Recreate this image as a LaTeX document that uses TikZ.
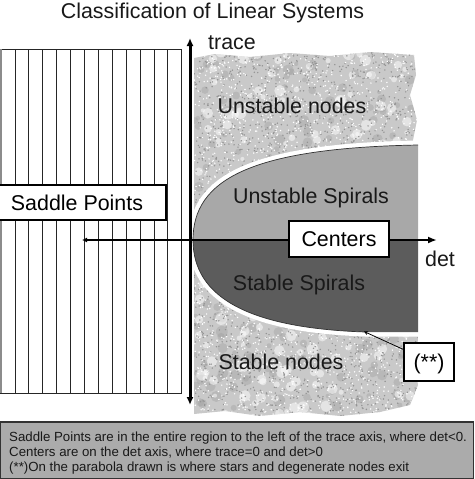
\documentclass[tikz,border=0pt]{standalone}
\usepackage{fontspec}
\setmainfont{Liberation Sans}
\usetikzlibrary{arrows.meta,calc}
\definecolor{lightreg}{HTML}{A8A8A8}
\definecolor{darkreg}{HTML}{5C5C5C}
\definecolor{notefill}{HTML}{ABABAB}
\definecolor{speck}{HTML}{949494}
\begin{document}
\begin{tikzpicture}[x=1pt,y=-1pt,
  lbl/.style={font=\fontsize{21.4}{24}\selectfont, inner sep=0pt, anchor=base, text=black!90},
  boxed/.style={draw=black, line width=1.2pt, fill=white, inner sep=0pt,
    font=\fontsize{21.4}{24}\selectfont, text height=15.3pt, text depth=0pt},
  notetext/.style={font=\fontsize{13.25}{15}\selectfont, inner sep=0pt, anchor=base west, text=black!90},
  hatch/.style={line width=0.9pt, draw=black!85},
  axis/.style={draw=black}
]
\useasboundingbox (0,0) rectangle (474,479);
\fill[white] (0,0) rectangle (474,479);

% speckled region (nodes)
\pgfmathsetseed{7}
\begin{scope}
\clip (194,58) -- (215,54) -- (250,57) -- (290,53) -- (330,56) -- (370,52) -- (414,55)
  -- (416,75) -- (410,95) -- (417,120) -- (412,145) -- (418,340) -- (414,360) -- (418,385)
  -- (410,405) -- (380,412) -- (340,416) -- (300,412) -- (260,416) -- (225,411) -- (194,414) -- cycle;
\fill[black!21] (190,40) rectangle (430,420);
\foreach \i in {1,...,260}{
  \fill[black!40, opacity=0.35] ({194+224*rnd},{50+370*rnd}) circle ({2+4*rnd});
}
\foreach \i in {1,...,240}{
  \fill[white, opacity=0.5] ({194+224*rnd},{50+370*rnd}) circle ({2+4*rnd});
}
\foreach \i in {1,...,2600}{
  \fill[speck] ({194+224*rnd},{50+370*rnd}) circle (0.8);
}
\foreach \i in {1,...,2200}{
  \fill[white] ({194+224*rnd},{50+370*rnd}) circle (0.8);
}
\end{scope}

% saddle hatch region
\draw[hatch] (0,49) -- (182,49);
\draw[hatch] (0,393) -- (182,393);
\draw[line width=2pt, black!45] (0.5,49) -- (0.5,393);
\foreach \k in {0,...,12}{
  \draw[hatch] ({15+13.9*\k},49) -- ({15+13.9*\k},393);
}

% spiral regions
\path[draw=white, line width=9pt, fill=white]
  (193,240) .. controls (193,180) and (250,148) .. (418,145) -- (418,332) -- (365,332)
  .. controls (250,328) and (193,298) .. (193,240) -- cycle;
\fill[lightreg] (193,240) .. controls (193,180) and (250,148) .. (418,145) -- (418,240) -- cycle;
\fill[darkreg] (193,240) .. controls (193,298) and (250,328) .. (365,332) -- (418,332) -- (418,240) -- cycle;
\draw[line width=0.7pt, black!80] (418,145) .. controls (250,148) and (193,180) .. (193,240)
  .. controls (193,298) and (250,328) .. (365,332);

% axes
\coordinate (tBot) at (190,405);
\coordinate (tTop) at (190,38);
\coordinate (dL) at (82,240);
\coordinate (dR) at (437,240);
\draw[axis, line width=2pt, {Latex[length=5pt,width=5pt]}-{Latex[length=9pt,width=7pt]}] (dL) -- (dR);
\draw[axis, line width=3pt, {Latex[length=8pt,width=7pt]}-{Latex[length=8pt,width=7pt]}] (tBot) -- (tTop);

% labels
\node[lbl] (title) at (212.5,18.5) {Classification of Linear Systems};
\node[lbl] (trace) at (232,49) {trace};
\node[lbl] (det) at (440,266) {det};
\node[lbl] (unodes) at (292,113) {Unstable nodes};
\node[lbl] (uspir) at (311,203) {Unstable Spirals};
\node[lbl] (sspir) at (299,290) {Stable Spirals};
\node[lbl] (snodes) at (281,369) {Stable nodes};

% boxes
\node[boxed, minimum width=178pt, minimum height=35pt] (saddle) at (77,202.5) {Saddle Points};
\node[boxed, minimum width=100pt, minimum height=36pt] (centers) at (339,239) {Centers};
\node[boxed, minimum width=50pt, minimum height=38pt] (stars) at (429,362) {(**)};

% leader to parabola
\coordinate (pp) at (364,331.5);
\draw[line width=0.8pt, -{Stealth[length=4pt,width=4pt]}]
  ($(stars.north west)!0.18!(stars.south west)$) -- (pp);

% note box
\draw[fill=notefill, draw=black!80, line width=1.2pt] (0.6,422) rectangle (473.4,478.4);
\node[notetext] (n1) at (9,441) {Saddle Points are in the entire region to the left of the trace axis, where det<0.};
\node[notetext] (n2) at (9,456) {Centers are on the det axis, where trace=0 and det>0};
\node[notetext] (n3) at (9,471) {(**)On the parabola drawn is where stars and degenerate nodes exit};
\end{tikzpicture}
\end{document}
